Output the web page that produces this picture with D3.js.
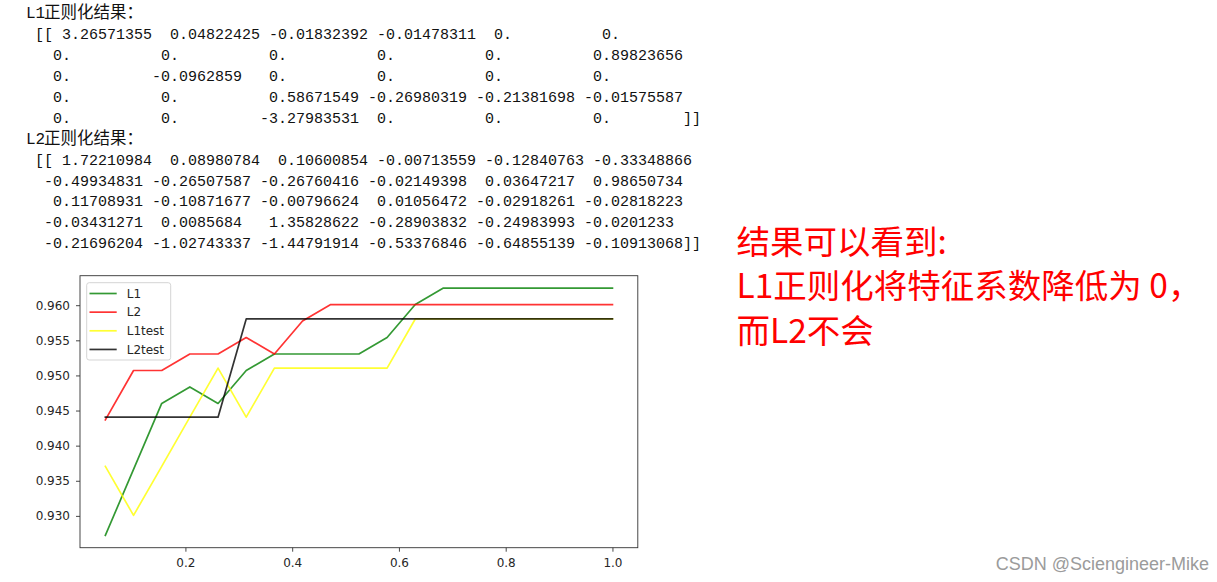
<!DOCTYPE html>
<html>
<head>
<meta charset="utf-8">
<script src="https://cdn.jsdelivr.net/npm/d3@7"></script>
<style>
  html, body { margin: 0; padding: 0; background: #fff; }
</style>
</head>
<body>
<div id="chart"></div>
<script>
// --- Console output: model coefficients (1 x 30) ---
const l1Coef = [
  3.26571355, 0.04822425, -0.01832392, -0.01478311, 0, 0,
  0, 0, 0, 0, 0, 0.89823656,
  0, -0.0962859, 0, 0, 0, 0,
  0, 0, 0.58671549, -0.26980319, -0.21381698, -0.01575587,
  0, 0, -3.27983531, 0, 0, 0,
]
const l2Coef = [
  1.72210984, 0.08980784, 0.10600854, -0.00713559, -0.12840763, -0.33348866,
  -0.49934831, -0.26507587, -0.26760416, -0.02149398, 0.03647217, 0.98650734,
  0.11708931, -0.10871677, -0.00796624, 0.01056472, -0.02918261, -0.02818223,
  -0.03431271, 0.0085684, 1.35828622, -0.28903832, -0.24983993, -0.0201233,
  -0.21696204, -1.02743337, -1.44791914, -0.53376846, -0.64855139, -0.10913068,
]

// --- Accuracy vs C ---
const cValues = [0.05, 0.1028, 0.1556, 0.2083, 0.2611, 0.3139, 0.3667, 0.4194, 0.4722, 0.525,
  0.5778, 0.6306, 0.6833, 0.7361, 0.7889, 0.8417, 0.8944, 0.9472, 1.0]
const l1Train = [0.92723, 0.93662, 0.94601, 0.94836, 0.94601, 0.95070, 0.95305, 0.95305, 0.95305, 0.95305,
  0.95540, 0.96009, 0.96244, 0.96244, 0.96244, 0.96244, 0.96244, 0.96244, 0.96244]
const l2Train = [0.94366, 0.95070, 0.95070, 0.95305, 0.95305, 0.95540, 0.95305, 0.95775, 0.96009, 0.96009,
  0.96009, 0.96009, 0.96009, 0.96009, 0.96009, 0.96009, 0.96009, 0.96009, 0.96009]
const l1Test = [0.93706, 0.93007, 0.93706, 0.94406, 0.95105, 0.94406, 0.95105, 0.95105, 0.95105, 0.95105,
  0.95105, 0.95804, 0.95804, 0.95804, 0.95804, 0.95804, 0.95804, 0.95804, 0.95804]
const l2Test = [0.94406, 0.94406, 0.94406, 0.94406, 0.94406, 0.95804, 0.95804, 0.95804, 0.95804, 0.95804,
  0.95804, 0.95804, 0.95804, 0.95804, 0.95804, 0.95804, 0.95804, 0.95804, 0.95804]

const seriesNames = ["L1", "L2", "L1test", "L2test"]
const seriesValues = [l1Train, l2Train, l1Test, l2Test]
const seriesColors = ["green", "red", "yellow", "black"]

const yTicks = [0.930, 0.935, 0.940, 0.945, 0.950, 0.955, 0.960]
const xTicks = [0.2, 0.4, 0.6, 0.8, 1.0]

const noteLines = ["结果可以看到:", "L1正则化将特征系数降低为 0，", "而L2不会"]
const watermark = "CSDN @Sciengineer-Mike"

const W = 1217, H = 582
const svg = d3.select("#chart").append("svg")
  .attr("width", W).attr("height", H)
  .attr("viewBox", `0 0 ${W} ${H}`)
  .style("display", "block")
  .style("background", "#fff")

// numpy-like formatting: sign slot + "0." + 8 decimals, width 11
const fmtCoef = (v) => {
  const s = v === 0 ? "0." : Math.abs(v).toString()
  return ((v < 0 ? "-" : " ") + s).padEnd(11, " ")
}

const MONO = "'Liberation Mono', 'DejaVu Sans Mono', monospace"
const CJK = "'Noto Sans CJK SC', sans-serif"
const consoleX = 26, lineH = 20.9

function drawConsole(title, coef, y0) {
  const t = svg.append("text")
    .attr("x", consoleX).attr("y", y0)
    .attr("fill", "#111").attr("font-size", 16).attr("font-family", MONO)
  t.append("tspan").text(title.slice(0, 2))
  t.append("tspan").attr("x", consoleX + 18)
    .attr("font-family", CJK).attr("font-size", 16.5).text(title.slice(2))

  const rows = d3.range(0, coef.length, 6).map(i => coef.slice(i, i + 6).map(fmtCoef).join(" "))
  rows.forEach((r, i) => {
    let line = (i === 0 ? " [[" : "  ") + r
    if (i === rows.length - 1) line += "]]"
    svg.append("text")
      .attr("x", consoleX).attr("y", y0 + lineH * (i + 1))
      .attr("xml:space", "preserve").style("white-space", "pre")
      .attr("fill", "#111").attr("font-size", 15).attr("font-family", MONO)
      .text(line)
  })
}

drawConsole("L1正则化结果：", l1Coef, 18.3)
drawConsole("L2正则化结果：", l2Coef, 18.3 + lineH * 6)

// --- Axes ---
const plot = { left: 80, right: 637.8, top: 275.7, bottom: 547.7 }
const FONT = "'DejaVu Sans', sans-serif"

const xExt = d3.extent(cValues), xPad = (xExt[1] - xExt[0]) * 0.05
const x = d3.scaleLinear().domain([xExt[0] - xPad, xExt[1] + xPad]).range([plot.left, plot.right])
const allY = seriesValues.flat()
const yExt = d3.extent(allY), yPad = (yExt[1] - yExt[0]) * 0.05
const y = d3.scaleLinear().domain([yExt[0] - yPad, yExt[1] + yPad]).range([plot.bottom, plot.top])

const line = d3.line().x((d, i) => x(cValues[i])).y(d => y(d))

seriesValues.forEach((vals, k) => {
  svg.append("path")
    .datum(vals)
    .attr("d", line)
    .attr("fill", "none")
    .attr("stroke", seriesColors[k]).attr("stroke-opacity", 0.8)
    .attr("stroke-width", 1.7).attr("stroke-linejoin", "round").attr("stroke-linecap", "square")
})

svg.append("g")
  .attr("transform", `translate(0,${plot.bottom})`)
  .call(d3.axisBottom(x).tickValues(xTicks).tickFormat(d3.format(".1f")).tickSize(4).tickPadding(6.5))
  .call(s => s.select(".domain").remove())
  .call(s => s.selectAll("line").attr("stroke", "#333").attr("stroke-width", 0.9))
  .call(s => s.selectAll("text").attr("fill", "#262626").attr("font-size", 12).attr("font-family", FONT))

svg.append("g")
  .attr("transform", `translate(${plot.left},0)`)
  .call(d3.axisLeft(y).tickValues(yTicks).tickFormat(d3.format(".3f")).tickSize(4).tickPadding(6))
  .call(s => s.select(".domain").remove())
  .call(s => s.selectAll("line").attr("stroke", "#333").attr("stroke-width", 0.9))
  .call(s => s.selectAll("text").attr("fill", "#262626").attr("font-size", 12).attr("font-family", FONT))

// frame (4 spines)
svg.append("rect")
  .attr("x", plot.left).attr("y", plot.top)
  .attr("width", plot.right - plot.left).attr("height", plot.bottom - plot.top)
  .attr("fill", "none").attr("stroke", "#333").attr("stroke-width", 0.9)

// --- Legend (top-left) ---
const lg = svg.append("g").attr("transform", "translate(86.7,282.7)")
lg.append("rect")
  .attr("width", 84).attr("height", 77.3).attr("rx", 2.5)
  .attr("fill", "#fff").attr("fill-opacity", 0.8)
  .attr("stroke", "#d0d0d0").attr("stroke-width", 0.9)
seriesNames.forEach((name, k) => {
  const ly = 10.8 + k * 18.65
  lg.append("line")
    .attr("x1", 2.8).attr("x2", 30).attr("y1", ly).attr("y2", ly)
    .attr("stroke", seriesColors[k]).attr("stroke-opacity", 0.8).attr("stroke-width", 1.7)
  lg.append("text")
    .attr("x", 40).attr("y", ly).attr("dy", "0.36em")
    .attr("fill", "#262626").attr("font-size", 12).attr("font-family", FONT)
    .text(name)
})

// --- Red note on the right ---
noteLines.forEach((t, i) => {
  svg.append("text")
    .attr("x", 736.5).attr("y", 254.1 + i * 44.2)
    .attr("xml:space", "preserve").style("white-space", "pre")
    .attr("fill", "#ff0000").attr("font-size", 33.5).attr("font-family", CJK)
    .text(t)
})

// --- Watermark ---
svg.append("text")
  .attr("x", 1209).attr("y", 570).attr("text-anchor", "end")
  .attr("fill", "#9b9b9b").attr("font-size", 18).attr("font-family", "'Liberation Sans', Arial, sans-serif")
  .text(watermark)
</script>
</body>
</html>
